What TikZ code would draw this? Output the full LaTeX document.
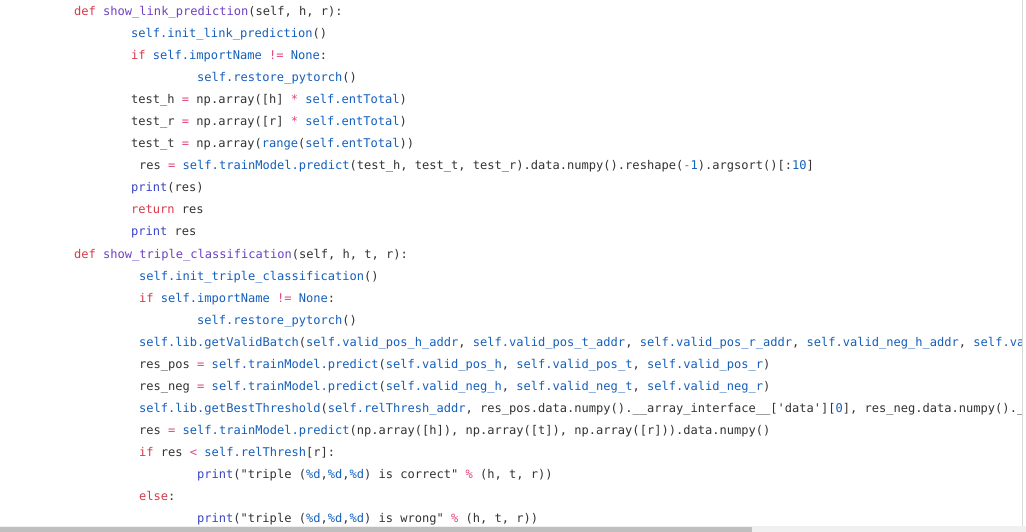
\documentclass[tikz,border=0pt]{standalone}
\usepackage{fontspec}
\newfontfamily\codefont{DejaVu Sans Mono}
\definecolor{kwc}{HTML}{D73A49}
\definecolor{fnc}{HTML}{6F42C1}
\definecolor{slc}{HTML}{1560BD}
\definecolor{prc}{HTML}{3B45C8}
\definecolor{opc}{HTML}{E0457B}
\definecolor{txc}{HTML}{333333}
\newcommand\kw[1]{\textcolor{kwc}{#1}}
\newcommand\fn[1]{\textcolor{fnc}{#1}}
\newcommand\slf[1]{\textcolor{slc}{#1}}
\newcommand\pr[1]{\textcolor{prc}{#1}}
\newcommand\op[1]{\textcolor{opc}{#1}}
\begin{document}
\begin{tikzpicture}[x=1pt,y=-1pt,
  ln/.style={anchor=base west,inner sep=0pt,text=txc,font=\codefont\fontsize{12.05}{14}\selectfont}]
\useasboundingbox (0,0) rectangle (1026,532);
\fill[white] (0,0) rectangle (1026,532);
\begin{scope}[yshift=-2pt]
\clip (0,2) rectangle (1021,528);
\node[ln] (l1) at (74,14) {\kw{def} \fn{show\_link\_prediction}(self, h, r):};
\node[ln] (l2) at (131,36) {\slf{self.init\_link\_prediction}()};
\node[ln] (l3) at (131,58) {\kw{if} \slf{self.importName} \op{!=} \slf{None}:};
\node[ln] (l4) at (197,80) {\slf{self.restore\_pytorch}()};
\node[ln] (l5) at (131,102) {test\_h \op{=} np.array([h] \op{*} \slf{self.entTotal})};
\node[ln] (l6) at (131,124) {test\_r \op{=} np.array([r] \op{*} \slf{self.entTotal})};
\node[ln] (l7) at (131,146) {test\_t \op{=} np.array(\slf{range}(\slf{self.entTotal}))};
\node[ln] (l8) at (139,168) {res \op{=} \slf{self.trainModel.predict}(test\_h, test\_t, test\_r).data.numpy().reshape(\op{-}\slf{1}).argsort()[:\slf{10}]};
\node[ln] (l9) at (131,190) {\pr{print}(res)};
\node[ln] (l10) at (131,212) {\kw{return} res};
\node[ln] (l11) at (131,234) {\pr{print} res};
\node[ln] (l12) at (74,256) {\kw{def} \fn{show\_triple\_classification}(self, h, t, r):};
\node[ln] (l13) at (139,278) {\slf{self.init\_triple\_classification}()};
\node[ln] (l14) at (139,300) {\kw{if} \slf{self.importName} \op{!=} \slf{None}:};
\node[ln] (l15) at (197,322) {\slf{self.restore\_pytorch}()};
\node[ln] (l16) at (139,344) {\slf{self.lib.getValidBatch}(\slf{self.valid\_pos\_h\_addr}, \slf{self.valid\_pos\_t\_addr}, \slf{self.valid\_pos\_r\_addr}, \slf{self.valid\_neg\_h\_addr}, \slf{self.valid\_neg\_t\_addr})};
\node[ln] (l17) at (139,366) {res\_pos \op{=} \slf{self.trainModel.predict}(\slf{self.valid\_pos\_h}, \slf{self.valid\_pos\_t}, \slf{self.valid\_pos\_r})};
\node[ln] (l18) at (139,388) {res\_neg \op{=} \slf{self.trainModel.predict}(\slf{self.valid\_neg\_h}, \slf{self.valid\_neg\_t}, \slf{self.valid\_neg\_r})};
\node[ln] (l19) at (139,410) {\slf{self.lib.getBestThreshold}(\slf{self.relThresh\_addr}, res\_pos.data.numpy().\_\_array\_interface\_\_['data'][\slf{0}], res\_neg.data.numpy().\_\_array\_interface\_\_['data'][\slf{0}])};
\node[ln] (l20) at (139,432) {res \op{=} \slf{self.trainModel.predict}(np.array([h]), np.array([t]), np.array([r])).data.numpy()};
\node[ln] (l21) at (139,454) {\kw{if} res \op{<} \slf{self.relThresh}[r]:};
\node[ln] (l22) at (197,476) {\pr{print}("triple (\slf{\%d},\slf{\%d},\slf{\%d}) is correct" \op{\%} (h, t, r))};
\node[ln] (l23) at (139,498) {\kw{else}:};
\node[ln] (l24) at (197,520) {\pr{print}("triple (\slf{\%d},\slf{\%d},\slf{\%d}) is wrong" \op{\%} (h, t, r))};
\end{scope}
\draw[color=black!15] (1022.5,0) -- (1022.5,526);
\fill[black!6] (0,526) rectangle (1026,532);
\fill[black!25] (0,527) rectangle (752,532);
\end{tikzpicture}
\end{document}
